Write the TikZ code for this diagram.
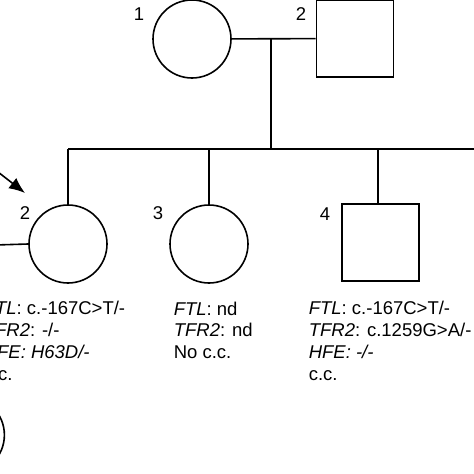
\documentclass[tikz,border=0pt]{standalone}
\usepackage{fontspec}
\setmainfont{Liberation Sans}
\usetikzlibrary{arrows.meta,positioning}

\begin{document}
\begin{tikzpicture}[x=1pt, y=-1pt, line width=1.6pt,
        every node/.style={font=\fontsize{18.5}{21.7}\selectfont},
        female/.style={draw, circle, minimum size=78pt, inner sep=0pt},
        male/.style={draw, rectangle, minimum size=77pt, inner sep=0pt},
        geno/.style={anchor=base west, align=left, inner sep=0pt}]
    \useasboundingbox (0,0) rectangle (474,474);
    \clip (0,0) rectangle (474,474);

    % parents
    \node[female] (mother) at (192,39) {};
    \node[male] (father) at (355,38.5) {};
    \node (nmother) at (139,14) {1};
    \node (nfather) at (301,14) {2};
    \coordinate (mate) at (271,39);
    \draw (mother) -- (father);

    % sibship
    \coordinate (sib) at (271,149);
    \coordinate (sibl) at (68,149);
    \coordinate (sibr) at (480,149);
    \draw (mate) -- (sib);
    \draw (sibl) -- (sibr);

    % children
    \node[female] (ii2) at (68,244) {};
    \node[female] (ii3) at (209,244) {};
    \node[male] (ii4) at (380.5,242.5) {};
    \node (nii2) at (25,213) {2};
    \node (nii3) at (158,213) {3};
    \node (nii4) at (325,214) {4};
    \draw (sibl) -- (ii2.north);
    \draw (sibl -| ii3.north) -- (ii3.north);
    \draw (sibl -| 378,0) -- (378,204);

    % spouse of proband and offspring
    \coordinate (spouse) at (-5,245);
    \draw (spouse) -- (ii2.west);
    \node[female] (iii1) at (-34.6,435) {};

    % proband arrow
    \coordinate (pstart) at (-2,172);
    \coordinate (ptip) at (25,193);
    \draw[-{Latex[length=16pt,width=13pt]}] (pstart) -- (ptip);

    % genotypes (base = last line)
    \node[geno] (g2) at (-17,380) {\textit{FTL}: c.-167C>T/-\\\textit{TFR2}: -/-\\\textit{HFE: H63D/-}\\c.c.};
    \node[geno] (g3) at (173,358.5) {\textit{FTL}: nd\\\textit{TFR2}: nd\\No c.c.};
    \node[geno] (g4) at (308,380) {\textit{FTL}: c.-167C>T/-\\\textit{TFR2}: c.1259G>A/-\\\textit{HFE: -/-}\\c.c.};
\end{tikzpicture}
\end{document}
